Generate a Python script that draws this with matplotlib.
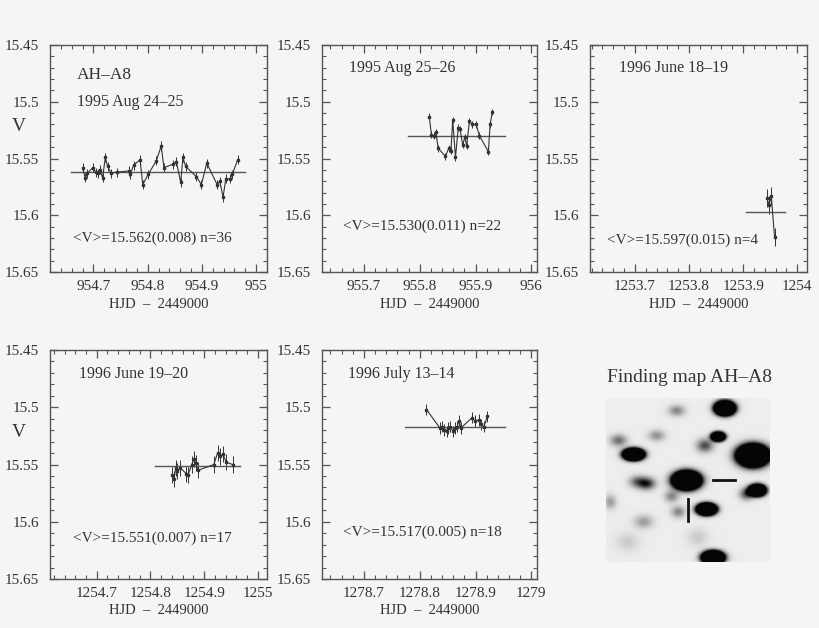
import numpy as np
import matplotlib
matplotlib.use("Agg")
import matplotlib.pyplot as plt
from matplotlib.ticker import MultipleLocator, FuncFormatter

plt.rcParams['font.family'] = ['Liberation Serif', 'DejaVu Serif']

# ---- light curve data (HJD - 2449000, V mag) ----
t1 = [954.680, 954.685, 954.689, 954.699, 954.704, 954.708, 954.712, 954.717, 954.722,
      954.726, 954.733, 954.743, 954.765, 954.768, 954.774, 954.786, 954.791, 954.801,
      954.816, 954.825, 954.830, 954.847, 954.853, 954.861, 954.865, 954.870, 954.890,
      954.899, 954.909, 954.928, 954.933, 954.939, 954.944, 954.952, 954.956, 954.966]
v1 = [15.558, 15.567, 15.563, 15.558, 15.562, 15.563, 15.560, 15.567, 15.549,
      15.557, 15.563, 15.562, 15.561, 15.564, 15.556, 15.551, 15.573, 15.564,
      15.552, 15.539, 15.558, 15.555, 15.553, 15.571, 15.549, 15.557, 15.566,
      15.573, 15.554, 15.573, 15.570, 15.584, 15.568, 15.568, 15.564, 15.551]

t2 = [955.817, 955.821, 955.825, 955.829, 955.833, 955.846, 955.852, 955.856, 955.859,
      955.864, 955.869, 955.872, 955.877, 955.881, 955.884, 955.889, 955.894, 955.901,
      955.907, 955.923, 955.926, 955.930]
v2 = [15.513, 15.529, 15.530, 15.527, 15.541, 15.548, 15.541, 15.543, 15.516,
      15.549, 15.523, 15.524, 15.538, 15.531, 15.539, 15.517, 15.520, 15.520,
      15.530, 15.544, 15.520, 15.509]

t3 = [1253.944, 1253.948, 1253.952, 1253.958]
v3 = [15.585, 15.591, 15.583, 15.619]

t4 = [1254.841, 1254.844, 1254.847, 1254.850, 1254.855, 1254.867, 1254.870, 1254.877,
      1254.881, 1254.884, 1254.889, 1254.918, 1254.925, 1254.929, 1254.935, 1254.941,
      1254.953]
v4 = [15.559, 15.563, 15.553, 15.556, 15.553, 15.558, 15.559, 15.550,
      15.545, 15.549, 15.555, 15.550, 15.540, 15.543, 15.541, 15.548,
      15.550]

t5 = [1278.812, 1278.836, 1278.840, 1278.844, 1278.848, 1278.851, 1278.855, 1278.860,
      1278.863, 1278.867, 1278.870, 1278.874, 1278.894, 1278.899, 1278.906, 1278.910,
      1278.915, 1278.921]
v5 = [15.502, 15.518, 15.517, 15.520, 15.521, 15.518, 15.517, 15.521,
      15.518, 15.517, 15.512, 15.518, 15.509, 15.512, 15.511, 15.515,
      15.517, 15.508]

errs = [0.004, 0.003, 0.008, 0.007, 0.005]
means = [15.562, 15.530, 15.597, 15.551, 15.517]
mean_span = [(954.659, 954.980), (955.779, 955.952), (1253.906, 1253.977),
             (1254.809, 1254.966), (1278.773, 1278.953)]
xlims = [(954.62, 955.02), (955.625, 956.01), (1253.617, 1254.018),
         (1254.613, 1255.017), (1278.625, 1279.01)]
dates = ["1995 Aug 24\u201225", "1995 Aug 25\u201226", "1996 June 18\u201219",
         "1996 June 19\u201220", "1996 July 13\u201214"]
stats = ["<V>=15.562(0.008) n=36", "<V>=15.530(0.011) n=22", "<V>=15.597(0.015) n=4",
         "<V>=15.551(0.007) n=17", "<V>=15.517(0.005) n=18"]

# finding map stars: (x, y, sx, sy, amplitude) in image fractions
star_x = [0.726, 0.685, 0.167, 0.898, 0.492, 0.614, 0.925, 0.654,
          0.604, 0.075, 0.309, 0.431, 0.248, 0.190, 0.400, 0.441, 0.228, 0.024, 0.860,
          0.560, 0.130]
star_y = [0.060, 0.234, 0.343, 0.350, 0.502, 0.679, 0.563, 0.975,
          0.289, 0.258, 0.228, 0.075, 0.522, 0.510, 0.600, 0.695, 0.756, 0.634, 0.585,
          0.850, 0.880]
star_sx = [0.034, 0.024, 0.035, 0.053, 0.047, 0.033, 0.029, 0.037,
           0.035, 0.035, 0.035, 0.035, 0.035, 0.035, 0.030, 0.030, 0.040, 0.025, 0.030,
           0.045, 0.050]
star_sy = [0.024, 0.016, 0.020, 0.037, 0.031, 0.020, 0.020, 0.022,
           0.028, 0.025, 0.023, 0.023, 0.025, 0.025, 0.025, 0.025, 0.028, 0.030, 0.025,
           0.040, 0.040]
star_amp = [8, 6, 8, 8, 8, 8, 7, 8,
            0.7, 0.55, 0.4, 0.45, 0.85, 0.55, 0.45, 0.45, 0.35, 0.35, 0.7,
            0.15, 0.15]

W, H = 820, 628
fig = plt.figure(figsize=(W / 100, H / 100), dpi=100, facecolor='#f5f5f5')
ink = '#333333'


def px_axes(left, right, top, bottom):
    return fig.add_axes([left / W, 1 - bottom / H, (right - left) / W, (bottom - top) / H])


rects = [(50, 267, 45, 272), (322, 537, 45, 272), (590, 807, 45, 272),
         (50, 267, 350, 579), (322, 537, 350, 579)]
series = [(t1, v1), (t2, v2), (t3, v3), (t4, v4), (t5, v5)]
date_pos = [(0.125, 0.75), (0.124, 0.90), (0.134, 0.90), (0.134, 0.894), (0.122, 0.894)]
stat_pos = [(0.105, 0.148), (0.097, 0.20), (0.08, 0.142), (0.105, 0.178), (0.097, 0.203)]

for i, (rect, (t, v)) in enumerate(zip(rects, series)):
    ax = px_axes(*rect)
    ax.set_facecolor('#f5f5f5')
    ax.errorbar(t, v, yerr=errs[i], fmt='-', color=ink, lw=0.8, elinewidth=0.7,
                marker='s', ms=1.5, capsize=0)
    ax.plot(mean_span[i], [means[i], means[i]], color='#555555', lw=1.0)
    ax.set_xlim(*xlims[i])
    ax.set_ylim(15.65, 15.45)
    ax.yaxis.set_major_locator(MultipleLocator(0.05))
    ax.yaxis.set_minor_locator(MultipleLocator(0.01))
    ax.xaxis.set_major_locator(MultipleLocator(0.1))
    ax.xaxis.set_minor_locator(MultipleLocator(0.02))
    ax.yaxis.set_major_formatter(FuncFormatter(lambda y, p: f"{y:g}"))
    ax.xaxis.set_major_formatter(FuncFormatter(lambda x, p: f"{round(x, 1):g}"))
    ax.tick_params(which='both', direction='in', top=True, right=True, color='#555555',
                   labelsize=11, labelcolor=ink)
    ax.tick_params(which='major', length=6, width=0.9)
    ax.tick_params(which='minor', length=3, width=0.8)
    ax.tick_params(axis='x', pad=6)
    ax.tick_params(axis='y', pad=8)
    for s in ax.spines.values():
        s.set_color('#555555')
        s.set_linewidth(1.0)
    ax.set_xlabel("HJD  \u2013  2449000", fontsize=10.5, color=ink, labelpad=3)
    ax.text(*date_pos[i], dates[i], transform=ax.transAxes, fontsize=11.5, color=ink,
            ha='left', va='center')
    ax.text(*stat_pos[i], stats[i], transform=ax.transAxes, fontsize=11, color=ink,
            ha='left', va='center')
    if i == 0:
        ax.text(0.125, 0.87, "AH\u2013A8", transform=ax.transAxes, fontsize=12.5, color=ink,
                ha='left', va='center')
    if i in (0, 3):
        ax.set_ylabel("V", fontsize=14, color=ink, rotation=0, va='center', ha='center')
        ax.yaxis.set_label_coords(-0.145, 0.64)

# finding map
axm = px_axes(606, 770, 398, 562)
g = np.linspace(0, 1, 200)
gx, gy = np.meshgrid(g, g)
dark = np.zeros_like(gx)
for x0, y0, sx, sy, a in zip(star_x, star_y, star_sx, star_sy, star_amp):
    dark += a * np.exp(-0.5 * (((gx - x0) / sx) ** 2 + ((gy - y0) / sy) ** 2))
img = 0.93 - 0.91 * np.clip(dark, 0, 1)
axm.imshow(img, cmap='gray', vmin=0, vmax=1, extent=[0, 1, 1, 0], interpolation='bilinear')
axm.plot([0.654, 0.787], [0.502, 0.502], color='#111111', lw=2)
axm.plot([0.502, 0.502], [0.618, 0.75], color='#111111', lw=2)
axm.set_xlim(0, 1)
axm.set_ylim(1, 0)
axm.axis('off')
fig.text(690 / W, 1 - 377 / H, "Finding map AH\u2013A8", fontsize=14, color=ink,
         ha='center', va='center')

fig.savefig("out.png", dpi=100, facecolor=fig.get_facecolor())
